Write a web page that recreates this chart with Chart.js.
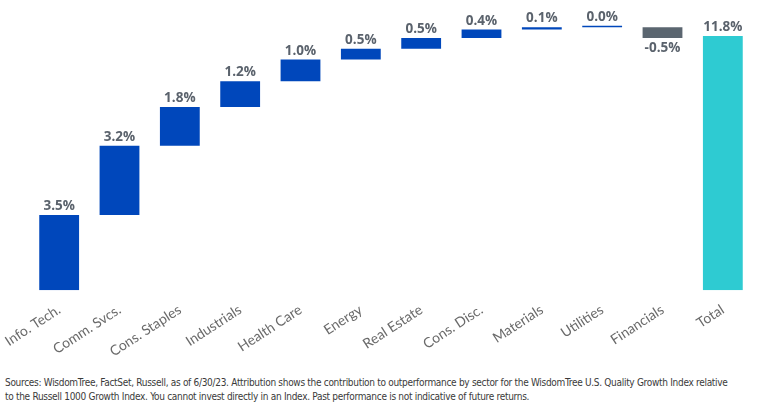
<!DOCTYPE html>
<html>
<head>
<meta charset="utf-8">
<script src="https://cdn.jsdelivr.net/npm/chart.js@4"></script>
<style>
  html, body { margin: 0; padding: 0; background: #fff; }
  #wrap { position: relative; width: 758px; height: 363px; }
  #note {
    font-family: "Liberation Sans Narrow", "DejaVu Sans Condensed", Lato, sans-serif;
    font-size: 10px; line-height: 14px; color: #3a3a3a; letter-spacing: -0.3px;
    padding: 13px 0 0 5px; white-space: nowrap;
  }
</style>
</head>
<body>
<div id="wrap"><canvas id="grafico"></canvas></div>
<div id="note">Sources: WisdomTree, FactSet, Russell, as of 6/30/23. Attribution shows the contribution to outperformance by sector for the WisdomTree U.S. Quality Growth Index relative<br>to the Russell 1000 Growth Index. You cannot invest directly in an Index. Past performance is not indicative of future returns.</div>
<script>
const categorias = ["Info. Tech.", "Comm. Svcs.", "Cons. Staples", "Industrials", "Health Care", "Energy",
  "Real Estate", "Cons. Disc.", "Materials", "Utilities", "Financials", "Total"];
// contribution per sector (%)
const contribuicoes = [3.5, 3.2, 1.8, 1.2, 1.0, 0.5, 0.5, 0.4, 0.1, 0.0, -0.5];
const total = 11.8;
const rotulos = ["3.5%", "3.2%", "1.8%", "1.2%", "1.0%", "0.5%", "0.5%", "0.4%", "0.1%", "0.0%", "-0.5%", "11.8%"];

// floating bars for the waterfall
let acumulado = 0;
const barras = contribuicoes.map((v) => {
  const inicio = acumulado;
  acumulado += v;
  return [inicio, acumulado];
});
barras.push([0, total]);

const cores = contribuicoes.map((v) => (v < 0 ? "#5b6670" : "#0047bb"));
cores.push("#2ecbd2");

const rotulosPlugin = {
  id: "rotulos",
  afterDatasetsDraw(chart) {
    const ctx = chart.ctx;
    const meta = chart.getDatasetMeta(0);
    ctx.save();
    ctx.font = "bold 13.5px 'Open Sans', sans-serif";
    ctx.fillStyle = "#5a626c";
    ctx.textAlign = "center";
    meta.data.forEach((bar, i) => {
      const neg = i < contribuicoes.length && contribuicoes[i] < 0;
      const topo = Math.min(bar.y, bar.base);
      const fundo = Math.max(bar.y, bar.base);
      if (neg) {
        ctx.textBaseline = "top";
        ctx.fillText(rotulos[i], bar.x, fundo + 3);
      } else {
        ctx.textBaseline = "bottom";
        ctx.fillText(rotulos[i], bar.x, topo - 2);
      }
    });
    ctx.restore();
  }
};

new Chart(document.getElementById("grafico").getContext("2d"), {
  type: "bar",
  data: {
    labels: categorias,
    datasets: [{
      data: barras,
      backgroundColor: cores,
      borderSkipped: false,
      minBarLength: 1.5,
      barPercentage: 0.66,
      categoryPercentage: 1
    }]
  },
  options: {
    responsive: true,
    maintainAspectRatio: false,
    animation: false,
    layout: { padding: { top: 10, left: 29, right: 5, bottom: 0 } },
    plugins: { legend: { display: false }, tooltip: { enabled: false } },
    scales: {
      x: {
        grid: { display: false },
        border: { display: false },
        ticks: {
          color: "#6a6a6a",
          font: { family: "Lato", size: 14 },
          minRotation: 33,
          maxRotation: 33,
          autoSkip: false
        }
      },
      y: { display: false, min: 0, max: 13 }
    }
  },
  plugins: [rotulosPlugin]
});
</script>
</body>
</html>
